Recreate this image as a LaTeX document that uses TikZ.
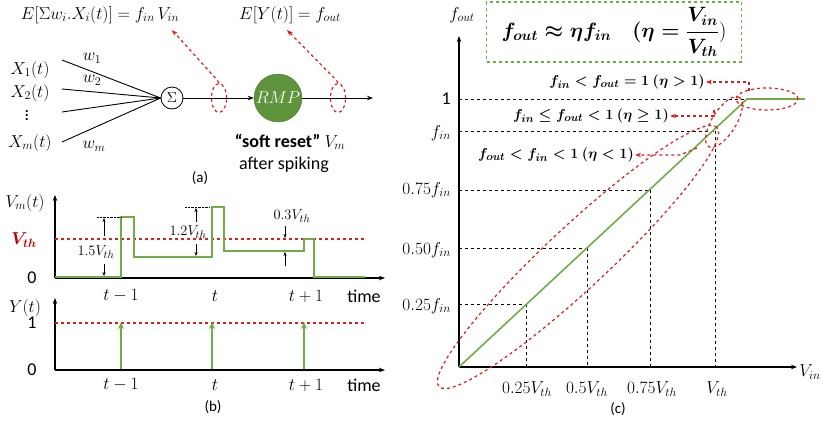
\documentclass[tikz,border=0pt]{standalone}
\usepackage{amsmath}
\usepackage{fontspec}
\setmainfont{Carlito}
\usetikzlibrary{arrows.meta,shapes.geometric}
\definecolor{rd}{RGB}{220,30,30}
\definecolor{gr}{RGB}{112,173,71}
\definecolor{dr}{RGB}{192,0,0}
\begin{document}
\begin{tikzpicture}[x=1pt,y=-1pt,font=\fontsize{18}{20}\selectfont,
  ax/.style={line width=1.4pt,-{Stealth[length=6pt]}},
  rdash/.style={rd,dashed,line width=1.2pt},
  rarr/.style={rd,dashed,line width=1.2pt,-{Stealth[length=6pt]}},
  grl/.style={gr,line width=1.6pt},
  bdash/.style={black,dashed,line width=0.8pt},
  lbl/.style={inner sep=1pt},
  sml/.style={font=\fontsize{15}{17}\selectfont}]
\useasboundingbox (0,0) rectangle (823,421);
% ---------- (a)
\node[lbl] (ea) at (100,15) {$E[\Sigma w_i.X_i(t)]=f_{in}\,V_{in}$};
\node[lbl] (eb) at (290,15) {$E[Y(t)]=f_{out}$};
\node[lbl] (x1) at (30,70) {$X_1(t)$};
\node[lbl] (x2) at (30,93) {$X_2(t)$};
\node[lbl,inner sep=0pt] (xd) at (27,113) {$\vdots$};
\node[lbl] (xm) at (30,143) {$X_m(t)$};
\node[draw,circle,line width=0.8pt,minimum size=22pt,inner sep=0pt,sml] (sum) at (172,98) {$\Sigma$};
\node[circle,fill=gr!85!black,draw=gr!70!black,minimum size=48pt,inner sep=0pt,text=white] (rmp) at (278,98) {$RMP$};
\coordinate (i1) at (62,60); \coordinate (i2) at (62,89); \coordinate (i3) at (62,112); \coordinate (i4) at (62,142);
\foreach \i in {i1,i2,i3,i4} \draw[line width=0.9pt] (\i) -- (sum.west);
\node[lbl] (w1) at (92,58) {$w_1$};
\node[lbl] (w2) at (92,80) {$w_2$};
\node[lbl] (wm) at (94,146) {$w_m$};
\coordinate (out) at (373,98);
\draw[line width=0.9pt,-{Stealth[length=6pt]}] (sum) -- (rmp);
\draw[line width=0.9pt,-{Stealth[length=6pt]}] (rmp) -- (out);
\node[draw=rd,dashed,line width=1.2pt,ellipse,minimum width=15pt,minimum height=29pt,inner sep=0pt] (e1) at (219,98) {};
\node[draw=rd,dashed,line width=1.2pt,ellipse,minimum width=15pt,minimum height=29pt,inner sep=0pt] (e2) at (338,98) {};
\coordinate (a1) at (172,30); \coordinate (a2) at (287,30);
\draw[rarr] (e1.north) -- ++(-2,-3) -- (a1);
\draw[rarr] (e2.north) -- ++(-2,-3) -- (a2);
\node[lbl] (sr) at (290,142) {\textbf{``soft reset''} $V_m$};
\node[lbl] (as) at (284,165) {after spiking};
\node[lbl,sml] (la) at (200,178) {(a)};
% ---------- (b) top
\coordinate (o1) at (55,278);
\coordinate (yt1) at (55,195); \coordinate (xt1) at (385,278);
\draw[ax] (o1) -- (yt1);
\draw[ax] (o1) -- (xt1);
\node[lbl] (vm) at (25,203) {$V_m(t)$};
\node[lbl,text=dr] (vth) at (24,240) {$\boldsymbol{V_{th}}$};
\node[lbl] (z1) at (32,278) {0};
\draw[rdash] (55,239) -- (365,239);
\draw[grl] (55,277) -- (121,277) -- (121,217) -- (134,217) -- (134,257) -- (212,257) -- (212,207) -- (224,207) -- (224,251) -- (304,251) -- (304,239) -- (314,239) -- (314,277) -- (365,277);
\draw[densely dotted] (97,217) -- (121,217);
\draw[-{Stealth[length=4pt]}] (104,236) -- (104,218);
\draw[-{Stealth[length=4pt]}] (104,264) -- (104,276);
\node[lbl,fill=white,inner sep=0pt,sml] (t15) at (96,252) {$1.5V_{th}$};
\draw[densely dotted] (185,207) -- (210,207);
\draw[-{Stealth[length=4pt]}] (196,222) -- (196,208);
\draw[-{Stealth[length=4pt]}] (196,244) -- (196,256);
\node[lbl,sml] (t12) at (188,232) {$1.2V_{th}$};
\draw[-{Stealth[length=4pt]}] (285,226) -- (285,238);
\draw[-{Stealth[length=4pt]}] (285,266) -- (285,252);
\node[lbl,sml] (t03) at (292,216) {$0.3V_{th}$};
\node[lbl] (ta) at (121,296) {$t-1$};
\node[lbl] (tb) at (215,296) {$t$};
\node[lbl] (tc) at (306,296) {$t+1$};
\node[lbl] (tm1) at (364,296) {time};
% ---------- (b) bottom
\coordinate (o2) at (55,370);
\coordinate (yt2) at (55,298); \coordinate (xt2) at (385,370);
\draw[ax] (o2) -- (yt2);
\draw[ax] (o2) -- (xt2);
\node[lbl] (yl) at (25,308) {$Y(t)$};
\node[lbl] (one) at (32,323) {1};
\node[lbl] (z2) at (32,370) {0};
\draw[rdash] (55,323) -- (365,323);
\foreach \x in {121,212,304} \draw[grl,-{Stealth[length=7pt,width=6pt]}] (\x,369) -- (\x,322);
\node[lbl] (ua) at (121,385) {$t-1$};
\node[lbl] (ub) at (215,385) {$t$};
\node[lbl] (uc) at (306,385) {$t+1$};
\node[lbl] (tm2) at (364,385) {time};
\node[lbl,sml] (lb) at (213,407) {(b)};
% ---------- (c)
\coordinate (o3) at (459,367);
\coordinate (yt3) at (459,36); \coordinate (xt3) at (797,367);
\node[draw=gr,dashed,line width=1.2pt,minimum width=255pt,minimum height=60pt] (box) at (614,32) {};
\node[lbl,font=\fontsize{21}{24}\selectfont] (eq) at (614,32) {$\boldsymbol{f_{out}\approx \eta f_{in}\quad (\eta=\dfrac{V_{in}}{V_{th}}})$};
\foreach \y/\x in {99/747,131/715,190/650,248/587,304/526} \draw[bdash] (459,\y) -- (\x,\y);
\foreach \x/\y in {526/304,587/248,650/190,715/131} \draw[bdash] (\x,\y) -- (\x,367);
\draw[ax] (o3) -- (yt3);
\draw[ax] (o3) -- (xt3);
\draw[grl] (o3) -- (747,99) -- (805,99);
\node[lbl] (fo) at (462,15) {$f_{out}$};
\node[lbl] (vi) at (810,372) {$V_{in}$};
\node[lbl,anchor=east] (l1) at (452,99) {1};
\node[lbl,anchor=east] (l2) at (452,133) {$f_{in}$};
\node[lbl,anchor=east] (l3) at (452,190) {$0.75f_{in}$};
\node[lbl,anchor=east] (l4) at (452,250) {$0.50f_{in}$};
\node[lbl,anchor=east] (l5) at (452,306) {$0.25f_{in}$};
\node[lbl] (v1) at (527,389) {$0.25V_{th}$};
\node[lbl] (v2) at (587,389) {$0.5V_{th}$};
\node[lbl] (v3) at (652,389) {$0.75V_{th}$};
\node[lbl] (v4) at (717,389) {$V_{th}$};
\node[lbl,sml] (lc) at (618,409) {(c)};
\node[draw=rd,dashed,line width=1.2pt,ellipse,minimum width=380pt,minimum height=62pt,rotate=43,inner sep=0pt] (E1) at (578,257) {};
\node[draw=rd,dashed,line width=1.2pt,ellipse,minimum width=58pt,minimum height=24pt,rotate=58,inner sep=0pt] (E2) at (724,122) {};
\node[draw=rd,dashed,line width=1.2pt,ellipse,minimum width=62pt,minimum height=22pt,inner sep=0pt] (E3) at (767,99) {};
\node[lbl,sml] (c1) at (627,82) {$\boldsymbol{f_{in}<f_{out}=1\ (\eta>1)}$};
\node[lbl,sml] (c2) at (591,116) {$\boldsymbol{f_{in}\le f_{out}<1\ (\eta\ge1)}$};
\node[lbl,sml] (c3) at (556,155) {$\boldsymbol{f_{out}<f_{in}<1\ (\eta<1)}$};
\draw[rarr] (749,91) -- (749,82) -- (c1.east);
\draw[rarr] (714,110) -- (714,116) -- (c2.east);
\draw[rarr] (697,148) -- (680,155) -- (c3.east);
\end{tikzpicture}
\end{document}
